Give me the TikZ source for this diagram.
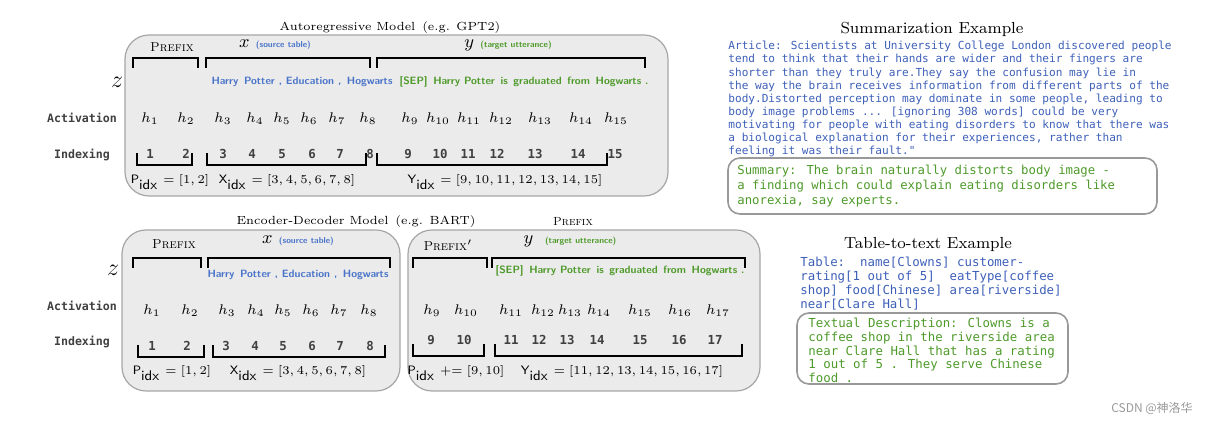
\documentclass[tikz,border=0pt]{standalone}
\usepackage{fontspec}
\newfontfamily\monof{DejaVu Sans Mono}
\newfontfamily\cjkf{Noto Sans CJK SC}
\usepackage{amsmath}
\definecolor{hpblue}{HTML}{4A74C9}
\definecolor{mblue}{HTML}{3D5FB8}
\definecolor{hpgreen}{HTML}{4E9A2A}
\definecolor{boxfill}{HTML}{EBEBEB}
\tikzset{
 panel/.style={draw=gray!70, fill=boxfill, rounded corners=12pt, line width=0.6pt},
 tbox/.style={draw=gray!80, rounded corners=6pt, line width=0.8pt},
 br/.style={line width=1.1pt},
 ttl/.style={font=\fontsize{5.9}{7}\selectfont},
 hh/.style={font=\fontsize{7.3}{8}\selectfont},
 ix/.style={font=\monof\bfseries\fontsize{6.2}{7}\selectfont, text=black!75},
 lab/.style={font=\monof\bfseries\fontsize{5.8}{6}\selectfont, text=black!75},
 zz/.style={font=\fontsize{12}{12}\selectfont},
 pre/.style={font=\fontsize{6.5}{7}\selectfont},
 vv/.style={font=\fontsize{9.5}{10}\selectfont},
 src/.style={font=\sffamily\bfseries\fontsize{5.3}{6}\selectfont},
 idl/.style={font=\fontsize{6.1}{7}\selectfont},
 mb/.style={font=\monof\fontsize{5.55}{6.55}\selectfont, text=mblue, anchor=north west, align=left, inner sep=0},
 mg/.style={font=\monof\fontsize{6.15}{7.4}\selectfont, text=hpgreen, anchor=north west, align=left, inner sep=0},
}
\newcommand{\tbr}[3]{\draw[br] (#1,#3+10) -- (#1,#3) -- (#2,#3) -- (#2,#3+10);}
\newcommand{\bbr}[3]{\draw[br] (#1,#3-12) -- (#1,#3) -- (#2,#3) -- (#2,#3-12);}
\newcommand{\idx}[1]{\textsf{#1}$_{\textsf{\scriptsize idx}}$}
\begin{document}
\begin{tikzpicture}[x=0.5pt,y=-0.5pt]
\useasboundingbox (0,0) rectangle (1217,421);
% ---- top panel
\node[ttl] (t1) at (390,28) {Autoregressive Model\, (e.g. GPT2)};
\draw[panel] (125,35) rectangle (668,196);
\node[zz] (z1) at (117,82) {$z$};
\node[lab] (a1) at (82,118) {Activation};
\node[lab] (i1) at (82,155) {Indexing};
\node[pre] (p1) at (172,47) {\textsc{Prefix}};
\node[vv] (x1) at (275,45) {$x$ {\color{hpblue}\fontsize{4.3}{5}\sffamily\bfseries (source table)}};
\node[vv] (y1) at (508,45) {$y$ {\color{hpgreen}\fontsize{4.3}{5}\sffamily\bfseries (target utterance)}};
\tbr{133}{198}{58}\tbr{206}{370}{58}\tbr{377}{645}{58}
\node[src,text=hpblue] (s1) at (302,82) {Harry\, Potter , Education , \,Hogwarts};
\node[src,text=hpgreen] (g1) at (524,82) {[SEP]\, Harry Potter\, is\, graduated\, from\, Hogwarts .};
\foreach \x/\n [count=\i] in {150/1,186/2,223/3,255/4,282/5,309/6,337/7,368/8,410/9,438/10,469/11,501/12,540/13,581/14,616/15}
  \node[hh] (ha\i) at (\x,119) {$h_{\n}$};
\foreach \x/\n [count=\i] in {150/1,186/2,223/3,252/4,282/5,312/6,340/7,370/8,408/9,440/10,468/11,497/12,535/13,578/14,615/15}
  \node[ix] (na\i) at (\x,154) {\n};
\bbr{137}{192}{165}\bbr{207}{366}{165}\bbr{377}{607}{165}
\node[idl] (l1) at (170,182) {\idx{P} $=[1,2]$};
\node[idl] (l2) at (287,182) {\idx{X} $=[3,4,5,6,7,8]$};
\node[idl] (l3) at (505,182) {\idx{Y} $=[9,10,11,12,13,14,15]$};
% ---- bottom panels
\node[ttl] (t2) at (356,222) {Encoder-Decoder Model\, (e.g. BART)};
\node[ttl] (t3) at (573,222) {\textsc{Prefix}};
\draw[panel] (122,230) rectangle (400,391);
\draw[panel] (408,230) rectangle (760,391);
\node[zz] (z2) at (113,270) {$z$};
\node[lab] (a2) at (82,306) {Activation};
\node[lab] (i2) at (82,342) {Indexing};
\node[pre] (p2) at (174,244) {\textsc{Prefix}};
\node[vv] (x2) at (298,241) {$x$ {\color{hpblue}\fontsize{4.3}{5}\sffamily\bfseries (source table)}};
\tbr{133}{201}{258}\tbr{208}{390}{258}
\node[src,text=hpblue] (s2) at (298,275) {Harry\, Potter , Education , \,Hogwarts};
\foreach \x/\n [count=\i] in {152/1,190/2,227/3,256/4,283/5,311/6,339/7,369/8}
  \node[hh] (hb\i) at (\x,311) {$h_{\n}$};
\foreach \x/\n [count=\i] in {152/1,187/2,226/3,255/4,283/5,312/6,340/7,370/8}
  \node[ix] (nb\i) at (\x,346) {\n};
\bbr{138}{204}{357}\bbr{213}{385}{357}
\node[idl] (l4) at (172,373) {\idx{P} $=[1,2]$};
\node[idl] (l5) at (298,373) {\idx{X} $=[3,4,5,6,7,8]$};
\node[pre] (p3) at (448,245) {\textsc{Prefix}$'$};
\node[vv] (y2) at (570,241) {$y$ \;{\color{hpgreen}\fontsize{4.3}{5}\sffamily\bfseries (target utterance)}};
\tbr{413}{487}{258}\tbr{492}{745}{258}
\node[src,text=hpgreen] (g2) at (620,271) {[SEP]\, Harry Potter\, is\, graduated\, from\, Hogwarts .};
\foreach \x/\n [count=\i] in {432/9,466/10,511/11,543/12,570/13,599/14,640/15,680/16,718/17}
  \node[hh] (hc\i) at (\x,311) {$h_{\n}$};
\foreach \x/\n [count=\i] in {431/9,464/10,511/11,539/12,567/13,597/14,640/15,679/16,715/17}
  \node[ix] (nc\i) at (\x,340) {\n};
\bbr{413}{484}{356}\bbr{495}{742}{356}
\node[idl] (l6) at (456,373) {\idx{P} $\mathrel{+}=[9,10]$};
\node[idl] (l7) at (622,373) {\idx{Y} $=[11,12,13,14,15,16,17]$};
% ---- right side
\node[font=\fontsize{8}{9}\selectfont] (se) at (932,29) {Summarization Example};
\node[mb] (art) at (728,41) {Article: Scientists at University College London discovered people\\
tend to think that their hands are wider and their fingers are\\
shorter than they truly are.They say the confusion may lie in\\
the way the brain receives information from different parts of the\\
body.Distorted perception may dominate in some people, leading to\\
body image problems ... [ignoring 308 words] could be very\\
motivating for people with eating disorders to know that there was\\
a biological explanation for their experiences, rather than\\
feeling it was their fault."};
\draw[tbox] (728,158) rectangle (1157,214);
\node[mg] (sum) at (737,165) {Summary: The brain naturally distorts body image -\\
a finding which could explain eating disorders like\\
anorexia, say experts.};
\node[font=\fontsize{8}{9}\selectfont] (te) at (928,245) {Table-to-text Example};
\node[mb,font=\monof\fontsize{6.2}{7}\selectfont] (tab) at (800,257) {Table:\ \ name[Clowns] customer-\\
rating[1 out of 5]\ \ eatType[coffee\\
shop] food[Chinese] area[riverside]\\
near[Clare Hall]};
\draw[tbox] (797,313) rectangle (1068,384);
\node[mg,font=\monof\fontsize{6.2}{6.85}\selectfont] (desc) at (808,318) {Textual Description: Clowns is a\\
coffee shop in the riverside area\\
near Clare Hall that has a rating\\
1 out of 5 . They serve Chinese\\
food .};
\node[font=\cjkf\fontsize{6}{7}\selectfont, text=gray!80] (wm) at (1152,408) {CSDN @神洛华};
\end{tikzpicture}
\end{document}
